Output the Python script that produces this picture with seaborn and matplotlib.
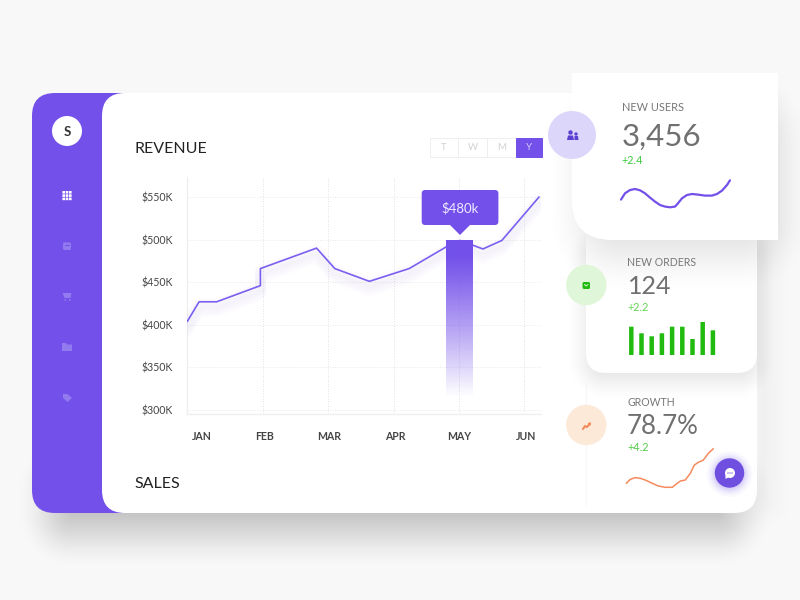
import numpy as np
import pandas as pd
import matplotlib
matplotlib.use("Agg")
import matplotlib.pyplot as plt
import matplotlib.patheffects as pe
from matplotlib.patches import FancyBboxPatch, Rectangle, Circle, Polygon
import seaborn as sns

# revenue line, x in months from JAN, y in $K
rev_x = [-0.16, 0.02, 0.29, 0.96, 0.96, 1.57, 1.82, 2.10, 2.63, 3.24, 3.82, 4.02, 4.37, 4.66, 5.23]
rev_y = [404, 427, 427, 446, 466, 483, 490, 466, 451, 466, 492, 499, 489, 499, 550]
y_ticks = [300, 350, 400, 450, 500, 550]
y_labels = ["$300K", "$350K", "$400K", "$450K", "$500K", "$550K"]
month_labels = ["JAN", "FEB", "MAR", "APR", "MAY", "JUN"]
month_pos = [0.06, 1.02, 2.02, 3.02, 4.01, 5.03]
grid_pos = [1, 2, 3, 4, 5]
peak_month = 4.0
peak_value = 500

# sparklines
users_x = [0, 4, 9, 14, 19, 24, 29, 34, 39, 44, 49, 54, 57, 61, 66, 71, 77, 84, 91, 96, 101, 106, 109]
users_y = [7.7, 14, 17.3, 18.3, 17, 14, 9.7, 5.7, 2.3, 0.7, 0, 0.7, 4, 9, 12.3, 13.3, 12.7, 11.7, 11.7, 13.3, 16.7, 22.3, 27]
orders_y = [28.3, 21.7, 18.7, 21.7, 28.3, 28.3, 16, 33.3, 24.7]
growth_x = [0, 4, 9, 14, 19, 26, 32, 39, 46, 51, 54, 59, 64, 68, 72, 77, 82, 87]
growth_y = [4, 8, 9.7, 9, 7.3, 4, 1.3, 0, 0, 4, 6.3, 7.3, 14, 22.3, 25, 27.3, 34, 38.7]

PURPLE = "#7350ea"
GREEN = "#21bb0f"
ORANGE = "#f58a5c"
BG = "#f8f8f8"

sns.set_theme(style="white")
plt.rcParams["font.family"] = ["Lato", "DejaVu Sans"]

fig = plt.figure(figsize=(8, 6), dpi=100, facecolor=BG)


def px_axes(x0, y0, x1, y1, z):
    a = fig.add_axes([x0 / 800, 1 - y1 / 600, (x1 - x0) / 800, (y1 - y0) / 600], zorder=z)
    a.patch.set_alpha(0)
    return a


def page_axes(z):
    a = px_axes(0, 0, 800, 600, z)
    a.set_xlim(0, 800)
    a.set_ylim(600, 0)
    a.axis("off")
    return a


bg = page_axes(0)
fg = page_axes(5)
xx, yy = np.meshgrid(np.arange(800) + 0.5, np.arange(600) + 0.5)
z_count = [1]


def z_next():
    z_count[0] += 1
    return z_count[0]


def shadow(x0, y0, x1, y1, r, blur, alpha):
    cx, cy = (x0 + x1) / 2, (y0 + y1) / 2
    qx = np.abs(xx - cx) - (x1 - x0) / 2 + r
    qy = np.abs(yy - cy) - (y1 - y0) / 2 + r
    d = np.hypot(np.maximum(qx, 0), np.maximum(qy, 0)) + np.minimum(np.maximum(qx, qy), 0) - r
    t = np.clip(0.5 - d / (2 * blur), 0, 1)
    rgba = np.zeros((600, 800, 4))
    rgba[..., 3] = alpha * t * t * (3 - 2 * t)
    bg.imshow(rgba, extent=(0, 800, 600, 0), aspect="auto", zorder=z_next(), interpolation="bilinear")
    bg.set_xlim(0, 800)
    bg.set_ylim(600, 0)


def card(a, x0, y0, x1, y1, r, color):
    p = FancyBboxPatch((x0, y0), x1 - x0, y1 - y0, boxstyle=f"round,pad=0,rounding_size={r}",
                       fc=color, ec="none", zorder=z_next())
    a.add_patch(p)


# page cards, back to front
shadow(52, 470, 738, 533, 20, 38, 0.24)
shadow(757, 100, 770, 505, 4, 32, 0.05)
card(bg, 32, 93, 150, 513, 23, PURPLE)
card(bg, 102, 93, 757, 513, 23, "white")
shadow(586, 240, 757, 381, 20, 22, 0.12)
card(bg, 586, 200, 757, 373, 20, "white")
bg.plot([586, 586], [373, 505], color="#f7f7f7", lw=0.8, zorder=z_next())
shadow(590, 115, 770, 250, 30, 48, 0.15)
card(bg, 572, 73, 778, 240, 40, "white")
bg.add_patch(Rectangle((612, 73), 166, 167, fc="white", ec="none", zorder=z_next()))
bg.add_patch(Rectangle((572, 73), 206, 120, fc="white", ec="none", zorder=z_next()))

# revenue chart
ax = px_axes(187, 177, 541, 414, 2)
px_per_k = 213 / 250
ax.set_ylim(300 - (414 - 410) / px_per_k, 550 + (197 - 177) / px_per_k)
ax.set_xlim(-0.165, 5.26)
rev = pd.DataFrame({"month": rev_x, "revenue": rev_y})
shade = [pe.SimpleLineShadow(offset=(0, -o), shadow_color=PURPLE, alpha=0.011, linewidth=8) for o in (1, 2.5, 4, 5.5, 7)]
sns.lineplot(data=rev, x="month", y="revenue", sort=False, estimator=None, color="#7a5ff0", lw=1.2, ax=ax,
             path_effects=shade + [pe.Normal()], zorder=4)
ax.set_xlabel("")
ax.set_ylabel("")
ax.set_yticks(y_ticks, y_labels)
ax.set_xticks(month_pos, month_labels)
ax.set_xticks(grid_pos, minor=True)
ax.tick_params(axis="y", length=0, pad=10, labelsize=7.6, labelcolor="#444444")
ax.tick_params(axis="x", which="major", length=0, pad=12, labelsize=7.6, labelcolor="#444444")
ax.tick_params(axis="x", which="minor", length=0)
for lab in ax.get_xticklabels():
    lab.set_fontweight("bold")
ax.grid(True, axis="y", which="major", ls=(0, (1, 2)), lw=0.6, color="#e2e2e2")
ax.grid(True, axis="x", which="minor", ls=(0, (1, 2)), lw=0.6, color="#d8d8d8")
ax.set_axisbelow(True)
for s in ["top", "right"]:
    ax.spines[s].set_visible(False)
for s in ["left", "bottom"]:
    ax.spines[s].set_color("#eeeeee")
    ax.spines[s].set_linewidth(0.9)

# gradient column under the tooltip
grad = np.zeros((256, 1, 4))
grad[..., :3] = matplotlib.colors.to_rgb(PURPLE)
grad[..., 3] = np.clip(1.08 - np.linspace(0, 1, 256) ** 1.15 * 1.08, 0, 1)[:, None]
half = 13.2 / 65.25
low = peak_value - (397 - 240) / px_per_k
ylim, xlim = ax.get_ylim(), ax.get_xlim()
ax.imshow(grad, extent=(peak_month - half, peak_month + half, low, peak_value), aspect="auto", zorder=5)
ax.set_ylim(ylim)
ax.set_xlim(xlim)

# tooltip
card(fg, 421.7, 190, 498.4, 225, 3.5, PURPLE)
fg.add_patch(Polygon([(449, 224), (471, 224), (460, 235)], fc=PURPLE, ec="none", zorder=z_next()))
fg.text(460, 208.5, "$480k", color="#efeaff", fontsize=9.5, ha="center", va="center", zorder=z_next())

# titles
fg.text(134, 149, "REVENUE", color="#222222", fontsize=11.5, va="center")
fg.text(134.5, 484.5, "SALES", color="#222222", fontsize=11.5, va="center")

# T W M Y switch
edges = [429.5, 458.3, 487.3, 516, 541.7]
for i, name in enumerate(["T", "W", "M", "Y"]):
    on = name == "Y"
    fg.add_patch(Rectangle((edges[i], 138.3), edges[i + 1] - edges[i], 18.4, fc=PURPLE if on else "white",
                           ec=PURPLE if on else "#eeeeee", lw=0.7, zorder=z_next()))
    fg.text((edges[i] + edges[i + 1]) / 2, 148, name, fontsize=7, ha="center", va="center",
            color="#d6cdfa" if on else "#d2d2d2", zorder=z_next())

# side bar
fg.add_patch(Circle((67, 131), 15, fc="white", ec="none", zorder=z_next()))
fg.text(67, 131.5, "S", fontsize=9.5, ha="center", va="center", color="#333333", fontweight="bold", zorder=z_next())
z = z_next()
for i in range(3):
    for j in range(3):
        fg.add_patch(Rectangle((62.4 + i * 3.3, 191 + j * 3.3), 2.6, 2.6, fc="white", ec="none", zorder=z, snap=False))
dim = "#917bef"
fg.add_patch(FancyBboxPatch((63, 242.5), 8, 7.5, boxstyle="round,pad=0,rounding_size=1.5", fc=dim, ec="none", zorder=z))
fg.plot([65, 69], [245, 245], color=PURPLE, lw=0.8, zorder=z + 1)
fg.add_patch(Polygon([(62.5, 293), (71.5, 293), (70.5, 298), (64.5, 298)], fc=dim, ec="none", zorder=z))
fg.add_patch(Circle((65.3, 300), 0.9, fc=dim, ec="none", zorder=z))
fg.add_patch(Circle((69.8, 300), 0.9, fc=dim, ec="none", zorder=z))
fg.add_patch(Polygon([(62, 343), (66, 343), (67, 344.5), (72, 344.5), (72, 351), (62, 351)], fc=dim, ec="none", zorder=z))
fg.add_patch(Polygon([(63, 394), (67.5, 394), (72, 398), (67.5, 402), (63, 398)], fc=dim, ec="none", zorder=z))

# stat circles and their glyphs
z = z_next()
fg.add_patch(Circle((572, 135), 24, fc="#ddd6fb", ec="none", zorder=z))
fg.add_patch(Circle((586.3, 285), 20.2, fc="#dff7d8", ec="none", zorder=z))
fg.add_patch(Circle((586.3, 425), 20.2, fc="#fce9d8", ec="none", zorder=z))
z = z_next()
fg.add_patch(Circle((570.5, 132.5), 2.2, fc="#5b3fd0", ec="none", zorder=z))
fg.add_patch(Circle((576, 134), 1.7, fc="#5b3fd0", ec="none", zorder=z))
fg.add_patch(Polygon([(567, 140), (568, 135.5), (573, 135.5), (574, 140)], fc="#5b3fd0", ec="none", zorder=z))
fg.add_patch(Polygon([(574.5, 140), (574.5, 136), (578, 136), (578.5, 140)], fc="#5b3fd0", ec="none", zorder=z))
fg.add_patch(FancyBboxPatch((582.5, 282), 7.5, 7, boxstyle="round,pad=0,rounding_size=1.5", fc=GREEN, ec="none", zorder=z))
fg.plot([584.5, 586.2, 588], [284.5, 286, 284.5], color="#dff7d8", lw=0.7, zorder=z + 1)
fg.plot([583, 585, 587, 590], [429, 426, 427, 423.5], color=ORANGE, lw=1.5, zorder=z)
fg.add_patch(Polygon([(587.5, 423), (591, 422.5), (590.5, 426)], fc=ORANGE, ec="none", zorder=z))

# stat text
fg.text(621.5, 107.5, "NEW USERS", color="#777777", fontsize=7.9, va="center")
fg.text(621.5, 137, "3,456", color="#707070", fontsize=22.5, va="center")
fg.text(621, 160.5, "+2.4", color="#3ccb3c", fontsize=7.8, va="center")
fg.text(627, 262.5, "NEW ORDERS", color="#777777", fontsize=7.6, va="center")
fg.text(628, 286, "124", color="#707070", fontsize=18, va="center")
fg.text(627, 307.5, "+2.2", color="#62d452", fontsize=7.8, va="center")
fg.text(627, 402.5, "GROWTH", color="#777777", fontsize=7.6, va="center")
fg.text(627, 426, "78.7%", color="#707070", fontsize=18.6, va="center")
fg.text(627, 447.5, "+4.2", color="#52cc48", fontsize=7.8, va="center")

# sparklines
a1 = px_axes(621, 180.3, 730, 207.3, 3)
sns.lineplot(x=users_x, y=users_y, estimator=None, color="#7350ea", lw=1.6, ax=a1, clip_on=False)
a1.set_xlim(0, 109)
a1.set_ylim(0, 27)
a1.axis("off")

a2 = px_axes(626.2, 321.7, 718, 355, 3)
sns.barplot(x=list(range(len(orders_y))), y=orders_y, color=GREEN, saturation=1, width=0.44, ax=a2)
for bar in a2.patches:
    bar.set_snap(False)
    bar.set_linewidth(0)
a2.set_xlim(-0.5, 8.5)
a2.set_ylim(0, 33.3)
a2.axis("off")

a3 = px_axes(626.3, 448.7, 713.3, 487.3, 3)
sns.lineplot(x=growth_x, y=growth_y, estimator=None, color=ORANGE, lw=1.1, ax=a3, clip_on=False)
a3.set_xlim(0, 87)
a3.set_ylim(0, 38.7)
a3.axis("off")

# chat button, with glow
z = z_next()
for r, al in zip([23, 21, 19, 17.5, 16], [0.03, 0.04, 0.05, 0.06, 0.08]):
    fg.add_patch(Circle((729.5, 474), r, fc=PURPLE, ec="none", alpha=al, zorder=z))
z = z_next()
fg.add_patch(Circle((729.5, 473), 14.7, fc="#6f4fe0", ec="none", zorder=z))
z = z_next()
fg.add_patch(Circle((730, 473), 5, fc="white", ec="none", zorder=z))
fg.add_patch(Polygon([(725.5, 475), (725.5, 479), (729, 477)], fc="white", ec="none", zorder=z))
z = z_next()
for dx in (-2, 0, 2):
    fg.add_patch(Circle((730 + dx, 473), 0.65, fc="#6f4fe0", ec="none", zorder=z))

fig.savefig("out.png", dpi=100, facecolor=BG)
